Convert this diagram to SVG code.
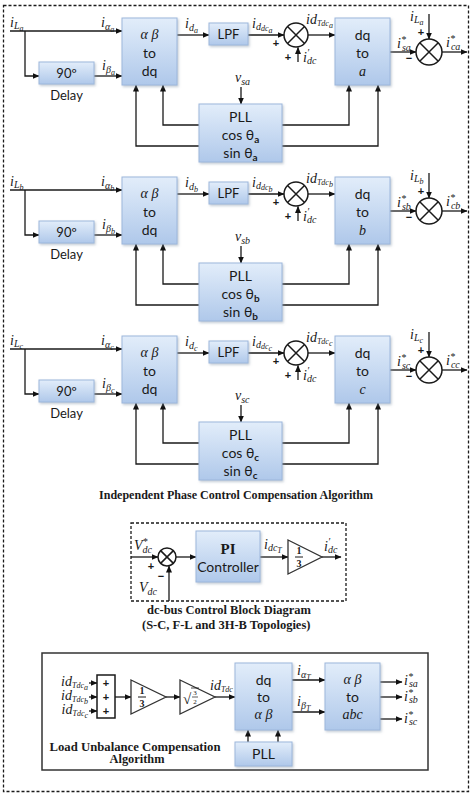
<svg xmlns="http://www.w3.org/2000/svg" width="474" height="794" viewBox="0 0 474 794">
<defs>
<linearGradient id="bg" x1="0" y1="0" x2="0" y2="1"><stop offset="0" stop-color="#e2edfa"/><stop offset="1" stop-color="#afc8ea"/></linearGradient>
<filter id="sh" x="-10%" y="-10%" width="130%" height="130%"><feDropShadow dx="1.2" dy="1.5" stdDeviation="1" flood-color="#8899aa" flood-opacity="0.5"/></filter>
<marker id="ar" markerWidth="7" markerHeight="6" refX="6.5" refY="3" orient="auto" markerUnits="userSpaceOnUse"><path d="M0,0 L7,3 L0,6 z" fill="#111"/></marker>
</defs>
<style>
.blk{fill:url(#bg);stroke:#9db7dc;stroke-width:1;filter:url(#sh)}
.ln{fill:none;stroke:#1a1a1a;stroke-width:1.3;marker-end:url(#ar)}
.sum{fill:#fff;stroke:#1a1a1a;stroke-width:1.5}
.x{stroke:#1a1a1a;stroke-width:1.5}
.bt{font-family:Lato,"Open Sans",sans-serif;font-size:14px;fill:#1a1a1a;text-anchor:middle}
.b13{font-size:13px}
.mi{font-family:"Liberation Serif",serif;font-style:italic;font-size:14px;fill:#1a1a1a}
.ct{font-family:"Liberation Serif",serif;font-style:italic;font-size:14px;fill:#1a1a1a;text-anchor:middle}
.s1{font-size:10px}
.s2{font-size:8px}
.pm{font-family:"Liberation Sans",sans-serif;font-weight:bold;font-size:11px;fill:#1a1a1a;text-anchor:middle}
.cap{font-family:"Liberation Serif",serif;font-weight:bold;font-size:12px;fill:#1a1a1a;text-anchor:middle}
.capl{font-family:"Liberation Serif",serif;font-weight:bold;font-size:12.5px;fill:#1a1a1a;text-anchor:start}
.dash{fill:none;stroke:#1a1a1a;stroke-width:1.3;stroke-dasharray:3 2}
.tri{fill:#fff;stroke:#333;stroke-width:1.3}
.fr{font-family:"Liberation Serif",serif;font-weight:bold;font-size:10px;fill:#1a1a1a;text-anchor:middle}
.sb{font-size:10px;font-weight:bold}
</style>
<rect x="0" y="0" width="474" height="794" fill="#fff"/>
<rect id="outer-frame" class="dash" x="3.5" y="5.5" width="465" height="786"/>

<!-- Phase a -->
<g id="phase-a" transform="translate(0,18)">
<g id="connectors-a" class="ln">
<path d="M10,13 H122"/>
<path d="M25,13 V58 H39"/>
<path d="M94,58 H122"/>
<path d="M177,17 H209"/>
<path d="M248,17 H284"/>
<path d="M308,17 H335"/>
<path d="M298,44 V29.5"/>
<path d="M390,34 H416"/>
<path d="M429,-4 V21"/>
<path d="M442,34 H467"/>
<path d="M241,69 V86"/>
<path d="M199,107 H163 V67"/>
<path d="M199,128 H136 V67"/>
<path d="M282,107 H349 V67"/>
<path d="M282,128 H378 V67"/>
</g>
<g id="delay-a"><rect class="blk" x="39" y="44" width="55" height="22"/><text class="bt b13" x="66.5" y="60">90º</text><text class="bt b13" x="66.5" y="82">Delay</text></g>
<g id="abdq-a"><rect class="blk" x="122" y="0" width="55" height="67"/><text class="ct" x="149.5" y="21">α β</text><text class="bt" x="149.5" y="40">to</text><text class="bt" x="149.5" y="58">dq</text></g>
<g id="lpf-a"><rect class="blk" x="209" y="5" width="39" height="22"/><text class="bt b13" x="228.5" y="21">LPF</text></g>
<g id="sum1-a"><circle class="sum" cx="296" cy="17" r="12"/><path class="x" d="M287.5,8.5 L304.5,25.5 M304.5,8.5 L287.5,25.5"/></g>
<g id="dqa-a"><rect class="blk" x="335" y="0" width="55" height="67"/><text class="bt" x="362.5" y="22">dq</text><text class="bt" x="362.5" y="40">to</text><text class="ct" x="362.5" y="58">a</text></g>
<g id="sum2-a"><circle class="sum" cx="429" cy="34" r="13"/><path class="x" d="M420,25 L438,43 M438,25 L420,43"/></g>
<g id="pll-a"><rect class="blk" x="199" y="86" width="83" height="58"/><text class="bt" x="240.5" y="104">PLL</text><text class="bt" x="240.5" y="122">cos θ<tspan class="sb" dy="3">a</tspan></text><text class="bt" x="240.5" y="140">sin θ<tspan class="sb" dy="3">a</tspan></text></g>
<g id="labels-a">
<text class="mi" x="10" y="9">i<tspan class="s1" dy="2">L</tspan><tspan class="s2" dy="2">a</tspan></text>
<text class="mi" x="101" y="9">i<tspan class="s1" dy="3">α</tspan><tspan class="s2" dy="2">a</tspan></text>
<text class="mi" x="102" y="52">i<tspan class="s1" dy="3">β</tspan><tspan class="s2" dy="2">a</tspan></text>
<text class="mi" x="185" y="10">i<tspan class="s1" dy="3">d</tspan><tspan class="s2" dy="2">a</tspan></text>
<text class="mi" x="252" y="10">i<tspan class="s1" dy="2">d</tspan><tspan class="s2" dy="1">dc</tspan><tspan class="s2" dy="2">a</tspan></text>
<text class="mi" x="306" y="6">id<tspan class="s2" dy="2">Tdc</tspan><tspan class="s2" dy="2">a</tspan></text>
<text class="pm" x="276" y="29">+</text>
<text class="pm" x="288" y="43">+</text>
<text class="mi" x="303" y="44">i<tspan class="s1" dy="-6">′</tspan><tspan class="s1" dx="-2" dy="8">dc</tspan></text>
<text class="mi" x="397" y="30">i<tspan class="s1" dy="-5">*</tspan><tspan class="s1" dx="-4" dy="8">sa</tspan></text>
<text class="mi" x="410" y="3">i<tspan class="s1" dy="2">L</tspan><tspan class="s2" dy="2">a</tspan></text>
<text class="pm" x="421" y="18">+</text>
<text class="pm" x="409" y="44">−</text>
<text class="mi" x="446" y="29">i<tspan class="s1" dy="-5">*</tspan><tspan class="s1" dx="-4" dy="8">ca</tspan></text>
<text class="mi" x="235" y="64">v<tspan class="s1" dy="3">sa</tspan></text>
</g>
</g>

<!-- Phase b -->
<g id="phase-b" transform="translate(0,177)">
<g id="connectors-b" class="ln">
<path d="M10,13 H122"/>
<path d="M25,13 V58 H39"/>
<path d="M94,58 H122"/>
<path d="M177,17 H209"/>
<path d="M248,17 H284"/>
<path d="M308,17 H335"/>
<path d="M298,44 V29.5"/>
<path d="M390,34 H416"/>
<path d="M429,-4 V21"/>
<path d="M442,34 H467"/>
<path d="M241,69 V86"/>
<path d="M199,107 H163 V67"/>
<path d="M199,128 H136 V67"/>
<path d="M282,107 H349 V67"/>
<path d="M282,128 H378 V67"/>
</g>
<g id="delay-b"><rect class="blk" x="39" y="44" width="55" height="22"/><text class="bt b13" x="66.5" y="60">90º</text><text class="bt b13" x="66.5" y="82">Delay</text></g>
<g id="abdq-b"><rect class="blk" x="122" y="0" width="55" height="67"/><text class="ct" x="149.5" y="21">α β</text><text class="bt" x="149.5" y="40">to</text><text class="bt" x="149.5" y="58">dq</text></g>
<g id="lpf-b"><rect class="blk" x="209" y="5" width="39" height="22"/><text class="bt b13" x="228.5" y="21">LPF</text></g>
<g id="sum1-b"><circle class="sum" cx="296" cy="17" r="12"/><path class="x" d="M287.5,8.5 L304.5,25.5 M304.5,8.5 L287.5,25.5"/></g>
<g id="dqb-b"><rect class="blk" x="335" y="0" width="55" height="67"/><text class="bt" x="362.5" y="22">dq</text><text class="bt" x="362.5" y="40">to</text><text class="ct" x="362.5" y="58">b</text></g>
<g id="sum2-b"><circle class="sum" cx="429" cy="34" r="13"/><path class="x" d="M420,25 L438,43 M438,25 L420,43"/></g>
<g id="pll-b"><rect class="blk" x="199" y="86" width="83" height="58"/><text class="bt" x="240.5" y="104">PLL</text><text class="bt" x="240.5" y="122">cos θ<tspan class="sb" dy="3">b</tspan></text><text class="bt" x="240.5" y="140">sin θ<tspan class="sb" dy="3">b</tspan></text></g>
<g id="labels-b">
<text class="mi" x="10" y="9">i<tspan class="s1" dy="2">L</tspan><tspan class="s2" dy="2">b</tspan></text>
<text class="mi" x="101" y="9">i<tspan class="s1" dy="3">α</tspan><tspan class="s2" dy="2">b</tspan></text>
<text class="mi" x="102" y="52">i<tspan class="s1" dy="3">β</tspan><tspan class="s2" dy="2">b</tspan></text>
<text class="mi" x="185" y="10">i<tspan class="s1" dy="3">d</tspan><tspan class="s2" dy="2">b</tspan></text>
<text class="mi" x="252" y="10">i<tspan class="s1" dy="2">d</tspan><tspan class="s2" dy="1">dc</tspan><tspan class="s2" dy="2">b</tspan></text>
<text class="mi" x="306" y="6">id<tspan class="s2" dy="2">Tdc</tspan><tspan class="s2" dy="2">b</tspan></text>
<text class="pm" x="276" y="29">+</text>
<text class="pm" x="288" y="43">+</text>
<text class="mi" x="303" y="44">i<tspan class="s1" dy="-6">′</tspan><tspan class="s1" dx="-2" dy="8">dc</tspan></text>
<text class="mi" x="397" y="30">i<tspan class="s1" dy="-5">*</tspan><tspan class="s1" dx="-4" dy="8">sb</tspan></text>
<text class="mi" x="410" y="3">i<tspan class="s1" dy="2">L</tspan><tspan class="s2" dy="2">b</tspan></text>
<text class="pm" x="421" y="18">+</text>
<text class="pm" x="409" y="44">−</text>
<text class="mi" x="446" y="29">i<tspan class="s1" dy="-5">*</tspan><tspan class="s1" dx="-4" dy="8">cb</tspan></text>
<text class="mi" x="235" y="64">v<tspan class="s1" dy="3">sb</tspan></text>
</g>
</g>

<!-- Phase c -->
<g id="phase-c" transform="translate(0,336)">
<g id="connectors-c" class="ln">
<path d="M10,13 H122"/>
<path d="M25,13 V58 H39"/>
<path d="M94,58 H122"/>
<path d="M177,17 H209"/>
<path d="M248,17 H284"/>
<path d="M308,17 H335"/>
<path d="M298,44 V29.5"/>
<path d="M390,34 H416"/>
<path d="M429,-4 V21"/>
<path d="M442,34 H467"/>
<path d="M241,69 V86"/>
<path d="M199,107 H163 V67"/>
<path d="M199,128 H136 V67"/>
<path d="M282,107 H349 V67"/>
<path d="M282,128 H378 V67"/>
</g>
<g id="delay-c"><rect class="blk" x="39" y="44" width="55" height="22"/><text class="bt b13" x="66.5" y="60">90º</text><text class="bt b13" x="66.5" y="82">Delay</text></g>
<g id="abdq-c"><rect class="blk" x="122" y="0" width="55" height="67"/><text class="ct" x="149.5" y="21">α β</text><text class="bt" x="149.5" y="40">to</text><text class="bt" x="149.5" y="58">dq</text></g>
<g id="lpf-c"><rect class="blk" x="209" y="5" width="39" height="22"/><text class="bt b13" x="228.5" y="21">LPF</text></g>
<g id="sum1-c"><circle class="sum" cx="296" cy="17" r="12"/><path class="x" d="M287.5,8.5 L304.5,25.5 M304.5,8.5 L287.5,25.5"/></g>
<g id="dqc-c"><rect class="blk" x="335" y="0" width="55" height="67"/><text class="bt" x="362.5" y="22">dq</text><text class="bt" x="362.5" y="40">to</text><text class="ct" x="362.5" y="58">c</text></g>
<g id="sum2-c"><circle class="sum" cx="429" cy="34" r="13"/><path class="x" d="M420,25 L438,43 M438,25 L420,43"/></g>
<g id="pll-c"><rect class="blk" x="199" y="86" width="83" height="58"/><text class="bt" x="240.5" y="104">PLL</text><text class="bt" x="240.5" y="122">cos θ<tspan class="sb" dy="3">c</tspan></text><text class="bt" x="240.5" y="140">sin θ<tspan class="sb" dy="3">c</tspan></text></g>
<g id="labels-c">
<text class="mi" x="10" y="9">i<tspan class="s1" dy="2">L</tspan><tspan class="s2" dy="2">c</tspan></text>
<text class="mi" x="101" y="9">i<tspan class="s1" dy="3">α</tspan><tspan class="s2" dy="2">c</tspan></text>
<text class="mi" x="102" y="52">i<tspan class="s1" dy="3">β</tspan><tspan class="s2" dy="2">c</tspan></text>
<text class="mi" x="185" y="10">i<tspan class="s1" dy="3">d</tspan><tspan class="s2" dy="2">c</tspan></text>
<text class="mi" x="252" y="10">i<tspan class="s1" dy="2">d</tspan><tspan class="s2" dy="1">dc</tspan><tspan class="s2" dy="2">c</tspan></text>
<text class="mi" x="306" y="6">id<tspan class="s2" dy="2">Tdc</tspan><tspan class="s2" dy="2">c</tspan></text>
<text class="pm" x="276" y="29">+</text>
<text class="pm" x="288" y="43">+</text>
<text class="mi" x="303" y="44">i<tspan class="s1" dy="-6">′</tspan><tspan class="s1" dx="-2" dy="8">dc</tspan></text>
<text class="mi" x="397" y="30">i<tspan class="s1" dy="-5">*</tspan><tspan class="s1" dx="-4" dy="8">sc</tspan></text>
<text class="mi" x="410" y="3">i<tspan class="s1" dy="2">L</tspan><tspan class="s2" dy="2">c</tspan></text>
<text class="pm" x="421" y="18">+</text>
<text class="pm" x="409" y="44">−</text>
<text class="mi" x="446" y="29">i<tspan class="s1" dy="-5">*</tspan><tspan class="s1" dx="-4" dy="8">cc</tspan></text>
<text class="mi" x="235" y="64">v<tspan class="s1" dy="3">sc</tspan></text>
</g>
</g>

<text id="title-ipc" class="cap" x="236" y="499" textLength="274" lengthAdjust="spacingAndGlyphs">Independent Phase Control Compensation Algorithm</text>

<!-- dc-bus control -->
<g id="dcbus">
<rect id="dcbus-frame" class="dash" x="131" y="523" width="215" height="78"/>
<g id="connectors-dc" class="ln">
<path d="M131,557 H158"/>
<path d="M169,601 V566"/>
<path d="M176,557 H196"/>
<path d="M260,557 H288"/>
<path d="M322,557 H341"/>
</g>
<g id="sum-dc"><circle class="sum" cx="167" cy="557" r="9"/><path class="x" d="M160.6,550.6 L173.4,563.4 M173.4,550.6 L160.6,563.4"/></g>
<g id="pi"><rect class="blk" x="196" y="531" width="64" height="51"/><text x="228" y="554" font-family="Liberation Serif, serif" font-weight="bold" font-size="15" fill="#1a1a1a" text-anchor="middle">PI</text><text class="bt" x="228" y="572">Controller</text></g>
<g id="gain-dc"><path class="tri" d="M288,540 L322,557 L288,574 Z"/><text class="fr" x="299" y="554">1</text><path d="M295,557 H303" stroke="#1a1a1a" stroke-width="1"/><text class="fr" x="299" y="567">3</text></g>
<g id="labels-dc">
<text class="mi" x="134" y="550">V<tspan class="s1" dy="-5">*</tspan><tspan class="s1" dx="-5" dy="8">dc</tspan></text>
<text class="pm" x="151" y="570">+</text>
<text class="pm" x="161" y="580">−</text>
<text class="mi" x="139" y="592">V<tspan class="s1" dy="3">dc</tspan></text>
<text class="mi" x="264" y="549">i<tspan class="s1" dy="2">dc</tspan><tspan class="s2" dy="2">T</tspan></text>
<text class="mi" x="324" y="551">i<tspan class="s1" dy="-6">′</tspan><tspan class="s1" dx="-2" dy="8">dc</tspan></text>
</g>
</g>
<text class="capl" x="147" y="614">dc-bus Control Block Diagram</text>
<text class="capl" x="142" y="629">(S-C, F-L and 3H-B Topologies)</text>

<!-- Load unbalance -->
<g id="lucomp">
<rect id="lu-frame" x="42" y="653" width="386" height="117" fill="none" stroke="#333" stroke-width="1.5"/>
<g id="connectors-lu" class="ln">
<path d="M89,683 H97"/>
<path d="M89,697 H97"/>
<path d="M89,711 H97"/>
<path d="M115,697 H131"/>
<path d="M166,697 H180"/>
<path d="M215,697 H235"/>
<path d="M248,742 V730"/>
<path d="M278,742 V730"/>
<path d="M292,680 H325"/>
<path d="M292,712 H325"/>
<path d="M380,682 H402"/>
<path d="M380,697 H402"/>
<path d="M380,719 H402"/>
</g>
<g id="sum3"><rect x="97" y="675" width="18" height="43" fill="#fff" stroke="#1a1a1a" stroke-width="1.5"/><text class="pm" x="106" y="687">+</text><text class="pm" x="106" y="701">+</text><text class="pm" x="106" y="715">+</text></g>
<g id="gain13"><path class="tri" d="M131,680 L166,697 L131,714 Z"/><text class="fr" x="142" y="694">1</text><path d="M138,697 H146" stroke="#1a1a1a" stroke-width="1"/><text class="fr" x="142" y="707">3</text></g>
<g id="gainsq"><path class="tri" d="M180,680 L215,697 L180,714 Z"/><text x="187" y="704" font-family="Liberation Serif, serif" font-size="15" fill="#1a1a1a" text-anchor="middle">√</text><path d="M191,688 H199" stroke="#1a1a1a" stroke-width="0.8"/><text x="195" y="695" font-family="Liberation Serif, serif" font-size="7" fill="#1a1a1a" text-anchor="middle">3</text><path d="M192,697 H198" stroke="#1a1a1a" stroke-width="0.7"/><text x="195" y="704" font-family="Liberation Serif, serif" font-size="7" fill="#1a1a1a" text-anchor="middle">2</text></g>
<g id="dqab"><rect class="blk" x="235" y="663" width="57" height="67"/><text class="bt" x="263.5" y="685">dq</text><text class="bt" x="263.5" y="702">to</text><text class="ct" x="263.5" y="719">α β</text></g>
<g id="pll-lu"><rect class="blk" x="235" y="742" width="57" height="24"/><text class="bt" x="263.5" y="759">PLL</text></g>
<g id="ababc"><rect class="blk" x="325" y="663" width="55" height="67"/><text class="ct" x="352.5" y="684">α β</text><text class="bt" x="352.5" y="702">to</text><text class="ct" x="352.5" y="719">abc</text></g>
<g id="labels-lu">
<text class="mi" x="88" y="686" text-anchor="end">id<tspan class="s2" dy="2">Tdc</tspan><tspan class="s2" dy="2">a</tspan></text>
<text class="mi" x="88" y="700" text-anchor="end">id<tspan class="s2" dy="2">Tdc</tspan><tspan class="s2" dy="2">b</tspan></text>
<text class="mi" x="88" y="714" text-anchor="end">id<tspan class="s2" dy="2">Tdc</tspan><tspan class="s2" dy="2">c</tspan></text>
<text class="mi" x="210" y="690">id<tspan class="s2" dy="2">Tdc</tspan></text>
<text class="mi" x="297" y="675">i<tspan class="s1" dy="3">α</tspan><tspan class="s2" dy="2">T</tspan></text>
<text class="mi" x="297" y="706">i<tspan class="s1" dy="3">β</tspan><tspan class="s2" dy="2">T</tspan></text>
<text class="mi" x="404" y="685">i<tspan class="s1" dy="-5">*</tspan><tspan class="s1" dx="-4" dy="7">sa</tspan></text>
<text class="mi" x="404" y="701">i<tspan class="s1" dy="-5">*</tspan><tspan class="s1" dx="-4" dy="7">sb</tspan></text>
<text class="mi" x="404" y="723">i<tspan class="s1" dy="-5">*</tspan><tspan class="s1" dx="-4" dy="7">sc</tspan></text>
</g>
<text class="cap" x="135" y="751" textLength="171" lengthAdjust="spacingAndGlyphs">Load Unbalance Compensation</text>
<text class="cap" x="137" y="763" textLength="55" lengthAdjust="spacingAndGlyphs">Algorithm</text>
</g>
</svg>
